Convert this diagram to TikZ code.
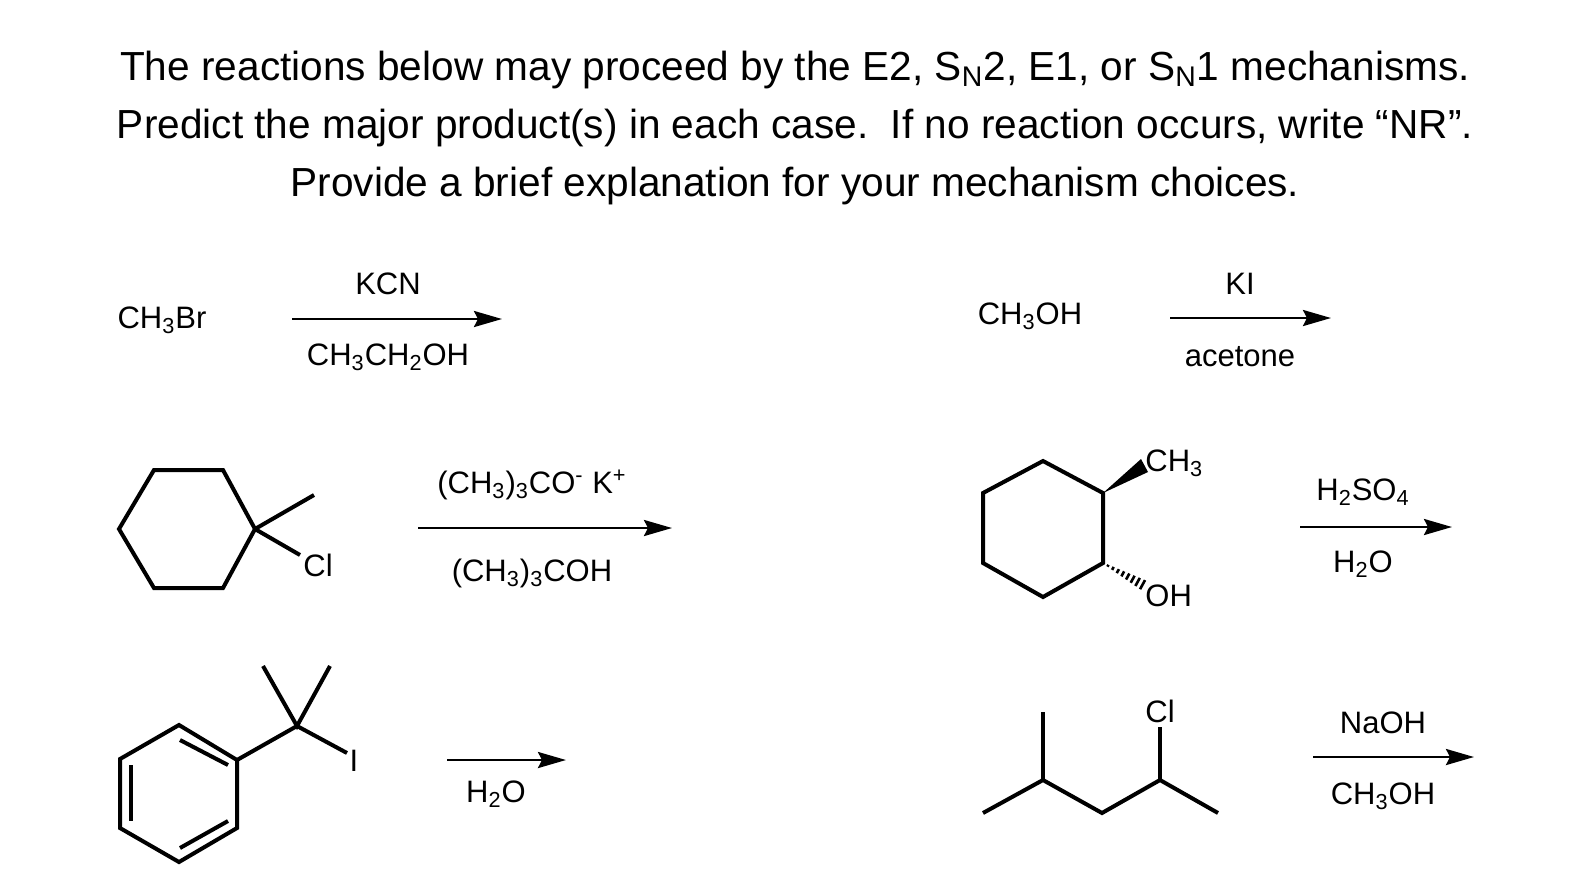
\documentclass[tikz,border=0pt]{standalone}
\usepackage{fontspec}
\setmainfont{Liberation Sans}
\usetikzlibrary{arrows.meta,calc}
\begin{document}
\begin{tikzpicture}[x=0.5pt,y=-0.5pt,
  bond/.style={line width=2pt,line join=miter},
  rxn/.style={line width=1.4pt,-{Stealth[length=14pt,width=8pt,inset=2pt]}},
  lbl/.style={font=\fontsize{15.5}{17}\selectfont,inner sep=0pt},
  ttl/.style={font=\fontsize{20.3}{24}\selectfont,inner sep=0pt}]
\useasboundingbox (0,0) rectangle (1572,890);
\node[ttl] (t1) at (795,70) {The reactions below may proceed by the E2, S\textsubscript{N}2, E1, or S\textsubscript{N}1 mechanisms.};
\node[ttl] (t2) at (795,128) {Predict the major product(s) in each case.\ \ If no reaction occurs, write “NR”.};
\node[ttl] (t3) at (795,186) {Provide a brief explanation for your mechanism choices.};
% row 1
\node[lbl] (a1) at (162,320) {CH\textsubscript{3}Br};
\coordinate (a1s) at (292,319); \coordinate (a1e) at (502,319);
\draw[rxn] (a1s) -- (a1e);
\node[lbl] (k1) at (388,284) {KCN};
\node[lbl] (k2) at (388,357) {CH\textsubscript{3}CH\textsubscript{2}OH};
\node[lbl] (b1) at (1030,316) {CH\textsubscript{3}OH};
\coordinate (b1s) at (1170,318); \coordinate (b1e) at (1331,318);
\draw[rxn] (b1s) -- (b1e);
\node[lbl] (k3) at (1240,284) {KI};
\node[lbl] (k4) at (1240,357) {acetone};
% row 2 left
\coordinate (c1) at (154,470); \coordinate (c2) at (223,470); \coordinate (c3) at (255,529);
\coordinate (c4) at (223,588); \coordinate (c5) at (154,588); \coordinate (c6) at (119,529);
\draw[bond] (c1)--(c2)--(c3)--(c4)--(c5)--(c6)--cycle;
\coordinate (cm) at (314,495);
\draw[bond] (c3)--(cm);
\node[lbl] (cl1) at (318,565) {Cl};
\draw[bond] (c3)--(300,555);
\coordinate (r2s) at (418,528); \coordinate (r2e) at (672,528);
\draw[rxn] (r2s) -- (r2e);
\node[lbl] (k5) at (532,485) {(CH\textsubscript{3})\textsubscript{3}CO\textsuperscript{-} K\textsuperscript{+}};
\node[lbl] (k6) at (532,573) {(CH\textsubscript{3})\textsubscript{3}COH};
% row 2 right
\coordinate (d1) at (1043,461); \coordinate (d2) at (1103,493); \coordinate (d3) at (1103,563);
\coordinate (d4) at (1043,597); \coordinate (d5) at (983,563); \coordinate (d6) at (983,493);
\draw[bond] (d1)--(d2)--(d3)--(d4)--(d5)--(d6)--cycle;
\fill (d2) -- (1141,459) -- (1148,472) -- cycle;
\node[lbl,anchor=west] (ch3) at (1145,463) {CH\textsubscript{3}};
\foreach \i in {1,...,8} {
  \pgfmathsetmacro\tt{\i/8.5}
  \pgfmathsetmacro\hw{0.5+5*\tt}
  \draw[line width=1.3pt] ($(d3)!\tt!(1145,586)$) ++(\hw*0.48,-\hw*0.877) -- ++(-\hw*0.96,\hw*1.754);
}
\node[lbl,anchor=west] (oh) at (1145,596) {OH};
\coordinate (r3s) at (1300,527); \coordinate (r3e) at (1452,527);
\draw[rxn] (r3s) -- (r3e);
\node[lbl] (k7) at (1363,492) {H\textsubscript{2}SO\textsubscript{4}};
\node[lbl] (k8) at (1363,564) {H\textsubscript{2}O};
% row 3 left
\coordinate (e1) at (179,725); \coordinate (e2) at (237,760); \coordinate (e3) at (237,828);
\coordinate (e4) at (179,862); \coordinate (e5) at (120,828); \coordinate (e6) at (120,759);
\draw[bond] (e1)--(e2)--(e3)--(e4)--(e5)--(e6)--cycle;
\draw[bond] (180,740)--(228,765);
\draw[bond] (131,765)--(131,821);
\draw[bond] (180,848)--(228,821);
\coordinate (q) at (297,726);
\draw[bond] (e2)--(q);
\draw[bond] (263,666)--(q)--(330,666);
\draw[bond] (q)--(347,753);
\node[lbl] (io) at (354,761) {I};
\coordinate (r4s) at (447,760); \coordinate (r4e) at (566,760);
\draw[rxn] (r4s) -- (r4e);
\node[lbl] (k9) at (496,794) {H\textsubscript{2}O};
% row 3 right
\coordinate (f1) at (983,813); \coordinate (f2) at (1043,780); \coordinate (f3) at (1102,813);
\coordinate (f4) at (1160,780); \coordinate (f5) at (1218,813);
\draw[bond] (f1)--(f2)--(f3)--(f4)--(f5);
\draw[bond] (f2)--(1043,712);
\draw[bond] (f4)--(1160,727);
\node[lbl] (cl2) at (1160,711) {Cl};
\coordinate (r5s) at (1313,757); \coordinate (r5e) at (1474,757);
\draw[rxn] (r5s) -- (r5e);
\node[lbl] (k10) at (1383,723) {NaOH};
\node[lbl] (k11) at (1383,796) {CH\textsubscript{3}OH};
\end{tikzpicture}
\end{document}
